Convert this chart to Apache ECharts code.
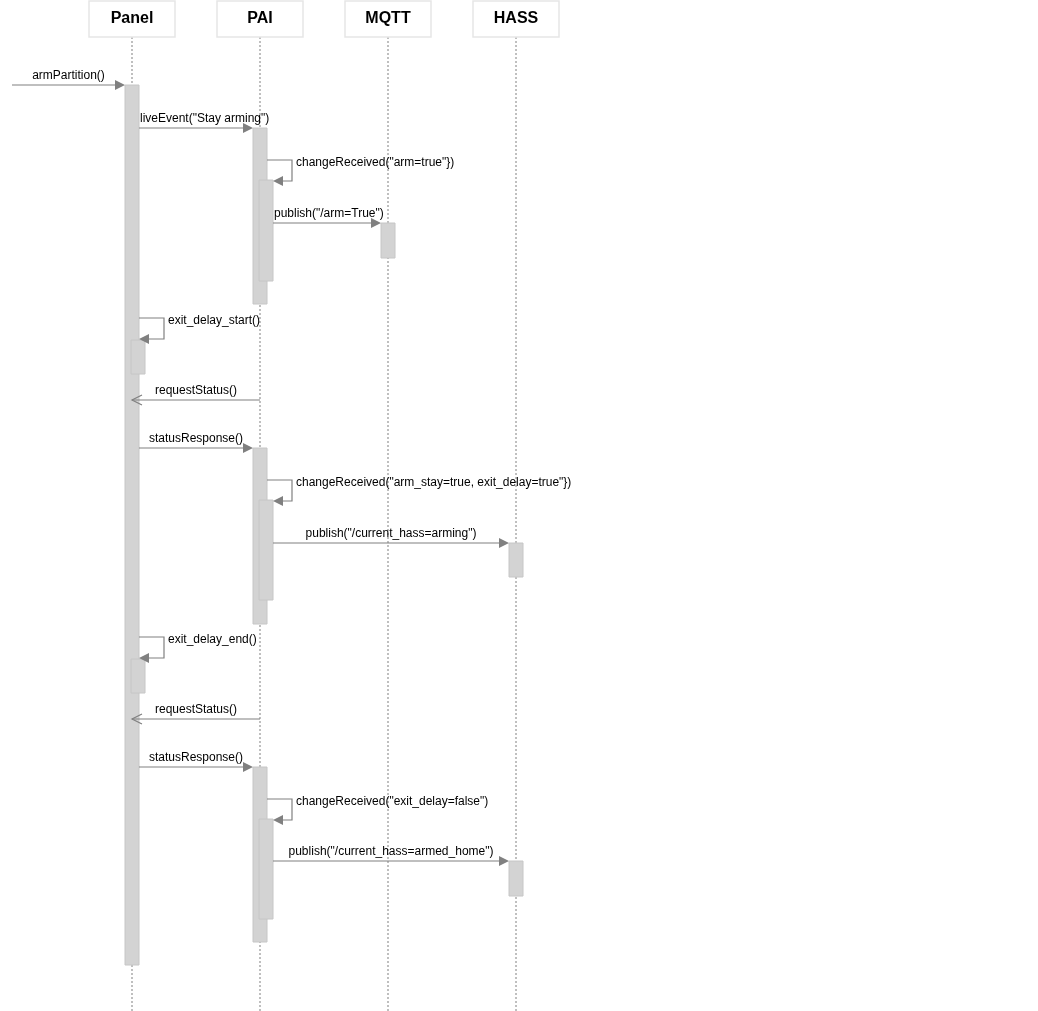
<!DOCTYPE html>
<html><head><meta charset="utf-8">
<script src="https://cdn.jsdelivr.net/npm/echarts@6/dist/echarts.min.js"></script>
<style>html,body{margin:0;padding:0;background:#fff}#c{width:1038px;height:1011px}</style>
</head><body><div id="c"></div>
<script>
const participants = ['Panel', 'PAI', 'MQTT', 'HASS'];
// [from, to, time, label, kind]  (from -1 = external caller)
const messages = [
  [-1, 0, 85, 'armPartition()', 'sync'],
  [0, 1, 128, 'liveEvent("Stay arming")', 'sync'],
  [1, 1, 160, 'changeReceived("arm=true"})', 'self'],
  [1, 2, 223, 'publish("/arm=True")', 'sync'],
  [0, 0, 318, 'exit_delay_start()', 'self'],
  [1, 0, 400, 'requestStatus()', 'reply'],
  [0, 1, 448, 'statusResponse()', 'sync'],
  [1, 1, 480, 'changeReceived("arm_stay=true, exit_delay=true"})', 'self'],
  [1, 3, 543, 'publish("/current_hass=arming")', 'sync'],
  [0, 0, 637, 'exit_delay_end()', 'self'],
  [1, 0, 719, 'requestStatus()', 'reply'],
  [0, 1, 767, 'statusResponse()', 'sync'],
  [1, 1, 799, 'changeReceived("exit_delay=false")', 'self'],
  [1, 3, 861, 'publish("/current_hass=armed_home")', 'sync']
];
// [participant, start, end]
const activations = [
  [0, 85, 965], [1, 128, 304], [1, 180, 281], [2, 223, 258], [0, 340, 374],
  [1, 448, 624], [1, 500, 600], [3, 543, 577], [0, 659, 693],
  [1, 767, 942], [1, 819, 919], [3, 861, 896]
];
const SELF_DROP = 21, BOX_W = 14, NEST = 6, SELF_OUT = 25;
const FONT = '12px "Liberation Sans", Arial, sans-serif';

const cv = document.createElement('canvas').getContext('2d');
cv.font = FONT;
const tw = s => cv.measureText(s).width;

function level(p, t) {
  return activations.filter(a => a[0] === p && a[1] <= t && t <= a[2]).length;
}
const chart = echarts.init(document.getElementById('c'), null, {renderer: 'canvas'});
const STEP = 128, C0 = 132;
function cx(api, p) { return api.coord([p, 0])[0]; }
function cy(api, t) { return api.coord([0, t])[1]; }
function rightEdge(api, p, t) { const l = level(p, t); return l ? cx(api, p) + BOX_W / 2 + NEST * (l - 1) : cx(api, p); }
function leftEdge(api, p, t) { const l = level(p, t); return l ? cx(api, p) - BOX_W / 2 + NEST * (l - 1) : cx(api, p); }
const grey = '#808080';
function head(x, y, dir) {
  return {type: 'polygon', shape: {points: [[x, y], [x - 10 * dir, y - 5], [x - 10 * dir, y + 5]]}, style: {fill: grey}};
}
function openHead(x, y, dir) {
  return {type: 'polyline', shape: {points: [[x - 10 * dir, y - 5], [x, y], [x - 10 * dir, y + 5]]}, style: {stroke: grey, lineWidth: 1.2, fill: null}};
}

chart.setOption({
  animation: false,
  grid: {left: 0, right: 0, top: 0, bottom: 0},
  xAxis: {type: 'value', min: -C0 / STEP, max: (1038 - C0) / STEP, show: false},
  yAxis: {type: 'value', min: 0, max: 1011, inverse: true, show: false},
  series: [
    {
      type: 'custom', z: 1, data: participants.map((p, i) => [i, 0]),
      renderItem(params, api) {
        const i = params.dataIndex, x = cx(api, i);
        return {type: 'group', children: [
          {type: 'line', shape: {x1: x, y1: cy(api, 37), x2: x, y2: cy(api, 1011)}, style: {stroke: grey, lineWidth: 1, lineDash: [2, 2]}},
          {type: 'rect', shape: {x: x - 43, y: cy(api, 1), width: 86, height: 36}, style: {fill: '#fff', stroke: '#e6e6e6', lineWidth: 1.5}},
          {type: 'text', style: {x: x, y: cy(api, 19), text: participants[i], fill: '#000', font: 'bold 16px "Liberation Sans", Arial, sans-serif', align: 'center', verticalAlign: 'middle'}}
        ]};
      }
    },
    {
      type: 'custom', z: 2, data: activations.map(a => [a[0], a[1]]),
      renderItem(params, api) {
        const [p, s, e] = activations[params.dataIndex];
        const l = level(p, s);
        const x = cx(api, p) - BOX_W / 2 + NEST * (l - 1);
        return {type: 'rect', shape: {x: x, y: cy(api, s), width: BOX_W, height: cy(api, e) - cy(api, s)}, style: {fill: '#d3d3d3', stroke: '#c6c6c6', lineWidth: 1}};
      }
    },
    {
      type: 'custom', z: 3, data: messages.map(m => [m[1], m[2]]),
      renderItem(params, api) {
        const [f, to, t, label, kind] = messages[params.dataIndex];
        const y = cy(api, t), ch = [];
        const ts = {fill: '#000', font: FONT, text: label};
        if (kind === 'self') {
          const x1 = rightEdge(api, f, t), xo = x1 + SELF_OUT;
          const y2 = cy(api, t + SELF_DROP), x2 = rightEdge(api, f, t + SELF_DROP);
          ch.push({type: 'polyline', shape: {points: [[x1, y], [xo, y], [xo, y2], [x2 + 8, y2]]}, style: {stroke: grey, lineWidth: 1.2, fill: null}});
          ch.push(head(x2, y2, -1));
          ch.push({type: 'text', style: Object.assign(ts, {x: xo + 4, y: y + 3, verticalAlign: 'middle'})});
        } else if (kind === 'reply') {
          const x1 = leftEdge(api, f, t), x2 = cx(api, to);
          ch.push({type: 'line', shape: {x1: x1, y1: y, x2: x2, y2: y}, style: {stroke: grey, lineWidth: 1.2}});
          ch.push(openHead(x2, y, -1));
          const w = tw(label), c = (x1 + x2) / 2;
          ch.push({type: 'text', style: Object.assign(ts, {x: Math.max(x2 + 1, c - w / 2), y: y - 3, verticalAlign: 'bottom'})});
        } else {
          const x1 = f < 0 ? 12 : rightEdge(api, f, t), x2 = leftEdge(api, to, t);
          ch.push({type: 'line', shape: {x1: x1, y1: y, x2: x2 - 8, y2: y}, style: {stroke: grey, lineWidth: 1.2}});
          ch.push(head(x2, y, 1));
          const w = tw(label), c = (x1 + x2) / 2;
          ch.push({type: 'text', style: Object.assign(ts, {x: Math.max(x1 + 1, c - w / 2), y: y - 3, verticalAlign: 'bottom'})});
        }
        return {type: 'group', children: ch};
      }
    }
  ]
});
</script></body></html>
